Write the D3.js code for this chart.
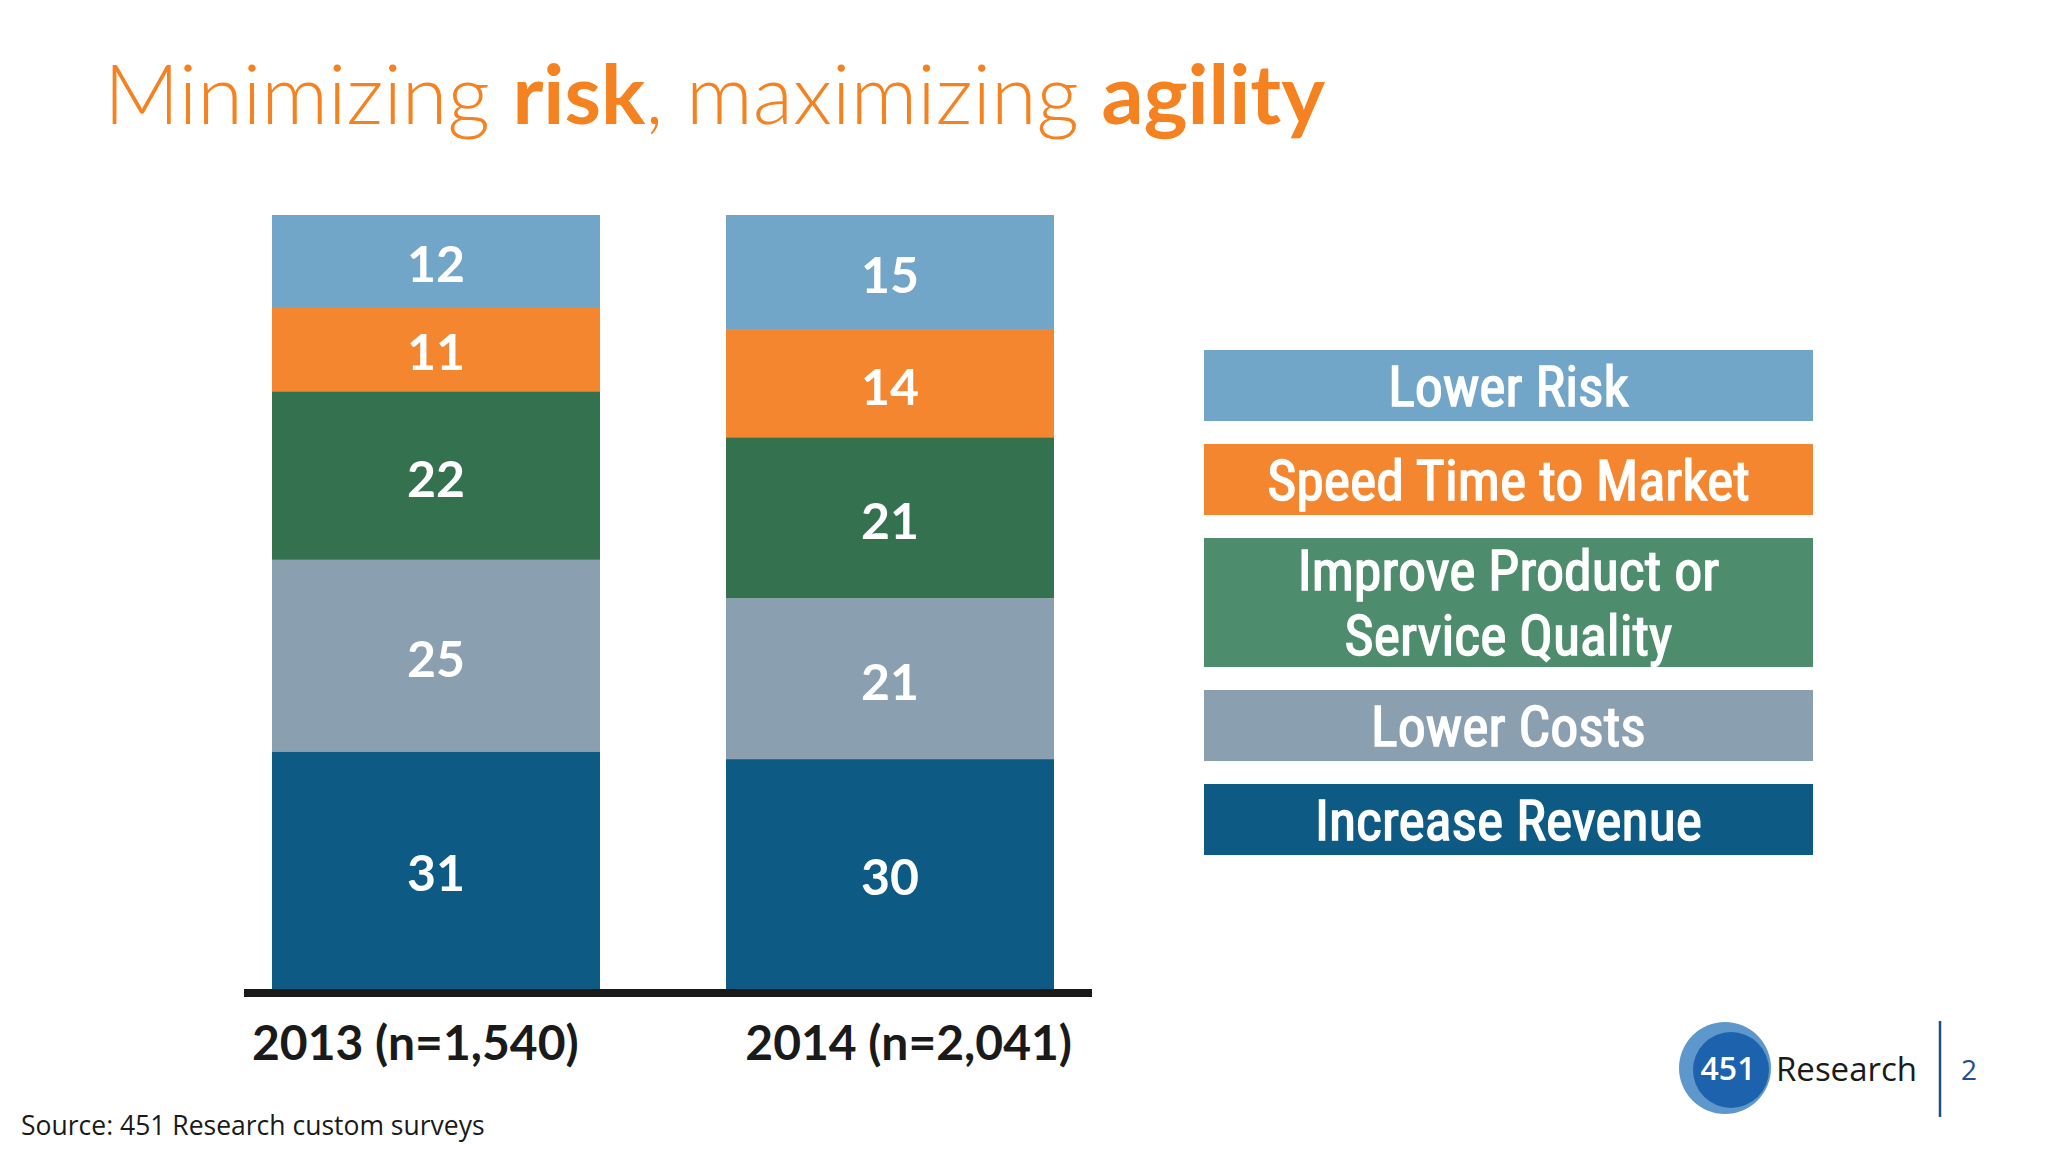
<!DOCTYPE html>
<html>
<head>
<meta charset="utf-8">
<script src="https://cdn.jsdelivr.net/npm/d3@7/dist/d3.min.js"></script>
<style>
  html, body { margin: 0; padding: 0; background: #fff; }
  svg { display: block; }
</style>
</head>
<body>
<div id="chart"></div>
<script>
// Survey years (x categories)
const years = ["2013 (n=1,540)", "2014 (n=2,041)"];

// Series, bottom of the stack first
const seriesKeys = ["revenue", "costs", "quality", "speed", "risk"];
const seriesLabels = [
  ["Increase Revenue"],
  ["Lower Costs"],
  ["Improve Product or", "Service Quality"],
  ["Speed Time to Market"],
  ["Lower Risk"]
];

// Percent values per year
const increaseRevenue = [31, 30];
const lowerCosts = [25, 21];
const improveQuality = [22, 21];
const speedToMarket = [11, 14];
const lowerRisk = [12, 15];

// Colours
const barColors = ["#0d5a85", "#8aa0b1", "#33714f", "#f4862f", "#72a6c8"];
const legendColors = ["#0d5a85", "#8aa0b1", "#4e8c6e", "#f4862f", "#72a6c8"];

const width = 2048;
const height = 1152;

const svg = d3.select("#chart")
  .append("svg")
  .attr("width", width)
  .attr("height", height);

// Title
const title = svg.append("text")
  .attr("x", 104)
  .attr("y", 124)
  .style("font-family", "Lato, 'Open Sans', sans-serif")
  .style("font-size", "83px")
  .style("font-weight", 300)
  .style("fill", "#f58220");
title.append("tspan").text("Minimizing ");
title.append("tspan").style("font-weight", 700).text("risk");
title.append("tspan").text(", maximizing ");
title.append("tspan").style("font-weight", 700).text("agility");

// Build rows for the stack
const rows = years.map((y, i) => ({
  year: y,
  revenue: increaseRevenue[i],
  costs: lowerCosts[i],
  quality: improveQuality[i],
  speed: speedToMarket[i],
  risk: lowerRisk[i]
}));

const stacked = d3.stack().keys(seriesKeys)(rows);
const total = d3.max(rows, d => d3.sum(seriesKeys, k => d[k]));

// Scales
const xScale = d3.scaleBand()
  .domain(years)
  .range([272, 1054])
  .paddingInner(0.2775)
  .paddingOuter(0);

const yScale = d3.scaleLinear()
  .domain([0, total])
  .range([989, 215]);

// Segments
const layers = svg.selectAll(".layer")
  .data(stacked)
  .enter()
  .append("g")
  .attr("class", "layer")
  .attr("fill", (d, i) => barColors[i]);

layers.selectAll("rect")
  .data(d => d)
  .enter()
  .append("rect")
  .attr("x", d => xScale(d.data.year))
  .attr("width", xScale.bandwidth())
  .attr("y", d => yScale(d[1]))
  .attr("height", d => yScale(d[0]) - yScale(d[1]));

// Values inside segments
layers.selectAll("text")
  .data(d => d)
  .enter()
  .append("text")
  .attr("x", d => xScale(d.data.year) + xScale.bandwidth() / 2)
  .attr("y", d => (yScale(d[0]) + yScale(d[1])) / 2)
  .attr("dy", "0.42em")
  .attr("text-anchor", "middle")
  .style("font-family", "Lato, 'Open Sans', sans-serif")
  .style("font-size", "50px")
  .style("font-weight", 700)
  .style("fill", "#fff")
  .text(d => d[1] - d[0]);

// Baseline
svg.append("line")
  .attr("x1", 244)
  .attr("x2", 1092)
  .attr("y1", yScale(0) + 4)
  .attr("y2", yScale(0) + 4)
  .attr("stroke", "#1a1a1a")
  .attr("stroke-width", 8);

// Year labels
svg.selectAll(".year-label")
  .data(years)
  .enter()
  .append("text")
  .attr("class", "year-label")
  .attr("x", (d, i) => i === 0 ? xScale(d) - 20 : xScale(d) + xScale.bandwidth() + 18)
  .attr("y", 1060)
  .attr("text-anchor", (d, i) => i === 0 ? "start" : "end")
  .style("font-family", "Lato, 'Open Sans', sans-serif")
  .style("font-size", "48px")
  .style("font-weight", 700)
  .style("fill", "#1a1a1a")
  .text(d => d);

// Legend, top to bottom
const legendX = 1204;
const legendW = 609;
const lineH = 65;
const gap = 23;
let legendY = 350;
const legendOrder = d3.range(seriesKeys.length).reverse();

legendOrder.forEach(i => {
  const lines = seriesLabels[i];
  const h = 71 + (lines.length - 1) * 58;
  const g = svg.append("g").attr("transform", `translate(${legendX}, ${legendY})`);
  g.append("rect")
    .attr("width", legendW)
    .attr("height", h)
    .attr("fill", legendColors[i]);
  g.selectAll("text")
    .data(lines)
    .enter()
    .append("text")
    .attr("x", legendW / 2)
    .attr("y", (d, j) => h / 2 + (j - (lines.length - 1) / 2) * lineH)
    .attr("dy", "0.36em")
    .attr("text-anchor", "middle")
    .style("font-family", "'Liberation Sans Narrow', 'Roboto Condensed', Roboto, sans-serif")
    .style("font-size", "56px")
    .style("font-weight", 400)
    .style("fill", "#fff")
    .style("stroke", "#fff")
    .style("stroke-width", 1.4)
    .text(d => d);
  legendY += h + gap;
});

// Source note
svg.append("text")
  .attr("x", 21)
  .attr("y", 1135)
  .style("font-family", "'Open Sans', 'Noto Sans', sans-serif")
  .style("font-size", "26.5px")
  .style("fill", "#1a1a1a")
  .text("Source: 451 Research custom surveys");

// Logo
const logo = svg.append("g").attr("transform", "translate(1727, 1068)");
logo.append("circle").attr("cx", -2).attr("cy", 0).attr("r", 46).attr("fill", "#5e97cb");
logo.append("circle").attr("cx", 4).attr("cy", 2).attr("r", 38).attr("fill", "#1d62ad");
logo.append("text")
  .attr("x", 1)
  .attr("y", 0)
  .attr("dy", "0.36em")
  .attr("text-anchor", "middle")
  .style("font-family", "'Open Sans', sans-serif")
  .style("font-size", "32px")
  .style("font-weight", 600)
  .style("fill", "#fff")
  .text("451");
svg.append("text")
  .attr("x", 1776)
  .attr("y", 1081)
  .style("font-family", "'Open Sans', sans-serif")
  .style("font-size", "33px")
  .style("fill", "#1a1a1a")
  .text("Research");
svg.append("line")
  .attr("x1", 1940).attr("x2", 1940)
  .attr("y1", 1021).attr("y2", 1117)
  .attr("stroke", "#1f4e8c")
  .attr("stroke-width", 2.5);
svg.append("text")
  .attr("x", 1961)
  .attr("y", 1080)
  .style("font-family", "'Open Sans', sans-serif")
  .style("font-size", "28px")
  .style("fill", "#1f4e8c")
  .text("2");
</script>
</body>
</html>
